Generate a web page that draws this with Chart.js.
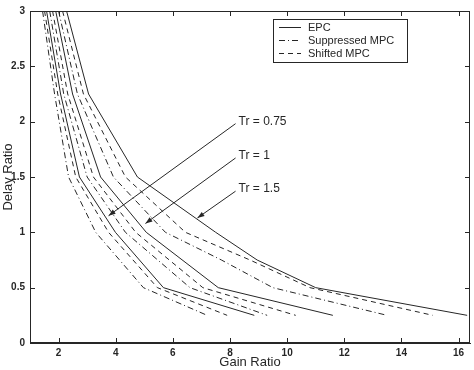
<!DOCTYPE html>
<html>
<head>
<meta charset="utf-8">
<script src="https://cdn.jsdelivr.net/npm/chart.js@4.4.1/dist/chart.umd.min.js"></script>
<style>
  html, body { margin: 0; padding: 0; background: #fff; }
  #wrap { width: 474px; height: 370px; }
</style>
</head>
<body>
<div id="wrap"><canvas id="chart" width="474" height="370"></canvas></div>
<script>
// delay ratio levels where each curve bends
const delayA = [3, 2.25, 1.5, 1, 0.5, 0.25];
const delayB = [3, 2.25, 1.5, 1, 0.75, 0.5, 0.25];

// gain ratio, Tr = 0.75
const epc075 = [1.58, 2.07, 2.73, 3.99, 5.67, 8.85];
const sup075 = [1.44, 1.86, 2.35, 3.3, 4.97, 7.2];
const shf075 = [1.51, 1.97, 2.6, 3.75, 5.46, 7.9];

// Tr = 1
const epc1 = [1.9, 2.49, 3.47, 5.07, 7.59, 11.6];
const sup1 = [1.69, 2.18, 3.0, 4.34, 6.6, 9.3];
const shf1 = [1.79, 2.32, 3.22, 4.7, 7.05, 10.3];

// Tr = 1.5
const epc15 = [2.28, 3.05, 4.76, 7.5, 8.95, 11.0, 16.3];
const sup15 = [2.0, 2.66, 3.92, 5.74, 7.7, 9.5, 13.5];
const shf15 = [2.14, 2.87, 4.34, 6.44, 8.7, 10.8, 15.1];

const xTicks = [2, 4, 6, 8, 10, 12, 14, 16];
const yTicks = [0, 0.5, 1, 1.5, 2, 2.5, 3];

const seriesNames = ["EPC", "Suppressed MPC", "Shifted MPC"];

// annotations: label, text position, arrow tip (data units)
const trLabels = ["Tr = 0.75", "Tr = 1", "Tr = 1.5"];
const trTextX = [8.3, 8.3, 8.3];
const trTextY = [2.0, 1.69, 1.39];
const trTipX = [3.75, 5.04, 6.86];
const trTipY = [1.15, 1.08, 1.13];

const ink = "#262626";
const styles = {
  "EPC": [],
  "Suppressed MPC": [6, 3, 1, 3],
  "Shifted MPC": [5, 4]
};

function pts(xs, ys) {
  return xs.map((x, i) => ({ x: x, y: ys[i] }));
}

function curve(name, xs, ys) {
  return {
    label: name,
    data: pts(xs, ys),
    borderColor: ink,
    borderWidth: 1,
    borderDash: styles[name],
    pointRadius: 0,
    showLine: true,
    fill: false,
    tension: 0
  };
}

const datasets = [
  curve("EPC", epc075, delayA),
  curve("Suppressed MPC", sup075, delayA),
  curve("Shifted MPC", shf075, delayA),
  curve("EPC", epc1, delayA),
  curve("Suppressed MPC", sup1, delayA),
  curve("Shifted MPC", shf1, delayA),
  curve("EPC", epc15, delayB),
  curve("Suppressed MPC", sup15, delayB),
  curve("Shifted MPC", shf15, delayB)
];

const font = "Liberation Sans, Arial, Helvetica, sans-serif";

// box, inward ticks, legend and Tr arrows
const decorations = {
  id: "decorations",
  afterDraw(chart) {
    const ctx = chart.ctx;
    const a = chart.chartArea;
    const xs = chart.scales.x, ys = chart.scales.y;
    ctx.save();
    ctx.strokeStyle = ink;
    ctx.lineWidth = 1;
    ctx.setLineDash([]);
    ctx.strokeRect(a.left + 0.5, a.top + 0.5, a.right - a.left - 1, a.bottom - a.top - 1);

    const t = 5;
    ctx.beginPath();
    xTicks.forEach(v => {
      const px = Math.round(xs.getPixelForValue(v)) + 0.5;
      ctx.moveTo(px, a.bottom); ctx.lineTo(px, a.bottom - t);
      ctx.moveTo(px, a.top); ctx.lineTo(px, a.top + t);
    });
    yTicks.forEach(v => {
      const py = Math.round(ys.getPixelForValue(v)) + 0.5;
      ctx.moveTo(a.left, py); ctx.lineTo(a.left + t, py);
      ctx.moveTo(a.right, py); ctx.lineTo(a.right - t, py);
    });
    ctx.stroke();

    // legend box
    const lx = a.left + 243, ly = a.top + 8, lw = 134, lh = 43;
    ctx.fillStyle = "#fff";
    ctx.fillRect(lx, ly, lw, lh);
    ctx.strokeRect(lx + 0.5, ly + 0.5, lw, lh);
    ctx.font = "11px " + font;
    ctx.textBaseline = "middle";
    ctx.textAlign = "left";
    seriesNames.forEach((name, i) => {
      const y = ly + 8.5 + i * 13;
      ctx.setLineDash(styles[name]);
      ctx.beginPath();
      ctx.moveTo(lx + 6, y);
      ctx.lineTo(lx + 28, y);
      ctx.stroke();
      ctx.fillStyle = ink;
      ctx.fillText(name, lx + 35, y);
    });
    ctx.setLineDash([]);

    // Tr labels with arrows
    ctx.font = "12px " + font;
    trLabels.forEach((txt, i) => {
      const tx = xs.getPixelForValue(trTextX[i]);
      const ty = ys.getPixelForValue(trTextY[i]);
      const hx = xs.getPixelForValue(trTipX[i]);
      const hy = ys.getPixelForValue(trTipY[i]);
      const sx = tx - 3, sy = ty + 2;
      ctx.fillStyle = ink;
      ctx.fillText(txt, tx, ty);
      ctx.beginPath();
      ctx.moveTo(sx, sy);
      ctx.lineTo(hx, hy);
      ctx.stroke();
      const ang = Math.atan2(hy - sy, hx - sx);
      const L = 7, W = 2.5;
      ctx.beginPath();
      ctx.moveTo(hx, hy);
      ctx.lineTo(hx - L * Math.cos(ang) + W * Math.sin(ang), hy - L * Math.sin(ang) - W * Math.cos(ang));
      ctx.lineTo(hx - L * Math.cos(ang) - W * Math.sin(ang), hy - L * Math.sin(ang) + W * Math.cos(ang));
      ctx.closePath();
      ctx.fill();
    });
    ctx.restore();
  }
};

new Chart(document.getElementById("chart"), {
  type: "scatter",
  data: { datasets: datasets },
  options: {
    responsive: false,
    animation: false,
    layout: { padding: { top: 4, right: 4, left: 0, bottom: 0 } },
    plugins: {
      legend: { display: false },
      tooltip: { enabled: false }
    },
    scales: {
      x: {
        type: "linear",
        min: 1,
        max: 16.4,
        afterFit: s => { s.height = 27; },
        afterBuildTicks: s => { s.ticks = xTicks.map(v => ({ value: v })); },
        grid: { display: false, drawTicks: false },
        border: { display: true, color: ink },
        ticks: {
          padding: 4,
          color: ink,
          font: { family: font, size: 10, weight: "bold" },
          maxRotation: 0
        },
        title: {
          display: true,
          text: "Gain Ratio",
          color: ink,
          padding: { top: 0, bottom: 0 },
          font: { family: font, size: 13 }
        }
      },
      y: {
        type: "linear",
        min: 0,
        max: 3,
        afterFit: s => { s.width = 30; },
        afterBuildTicks: s => { s.ticks = yTicks.map(v => ({ value: v })); },
        grid: { display: false, drawTicks: false },
        border: { display: true, color: ink },
        ticks: {
          padding: 5,
          color: ink,
          font: { family: font, size: 10, weight: "bold" },
          callback: v => String(v)
        },
        title: {
          display: true,
          text: "Delay Ratio",
          color: ink,
          padding: { top: 1, bottom: 0 },
          font: { family: font, size: 13 }
        }
      }
    }
  },
  plugins: [decorations]
});
</script>
</body>
</html>
